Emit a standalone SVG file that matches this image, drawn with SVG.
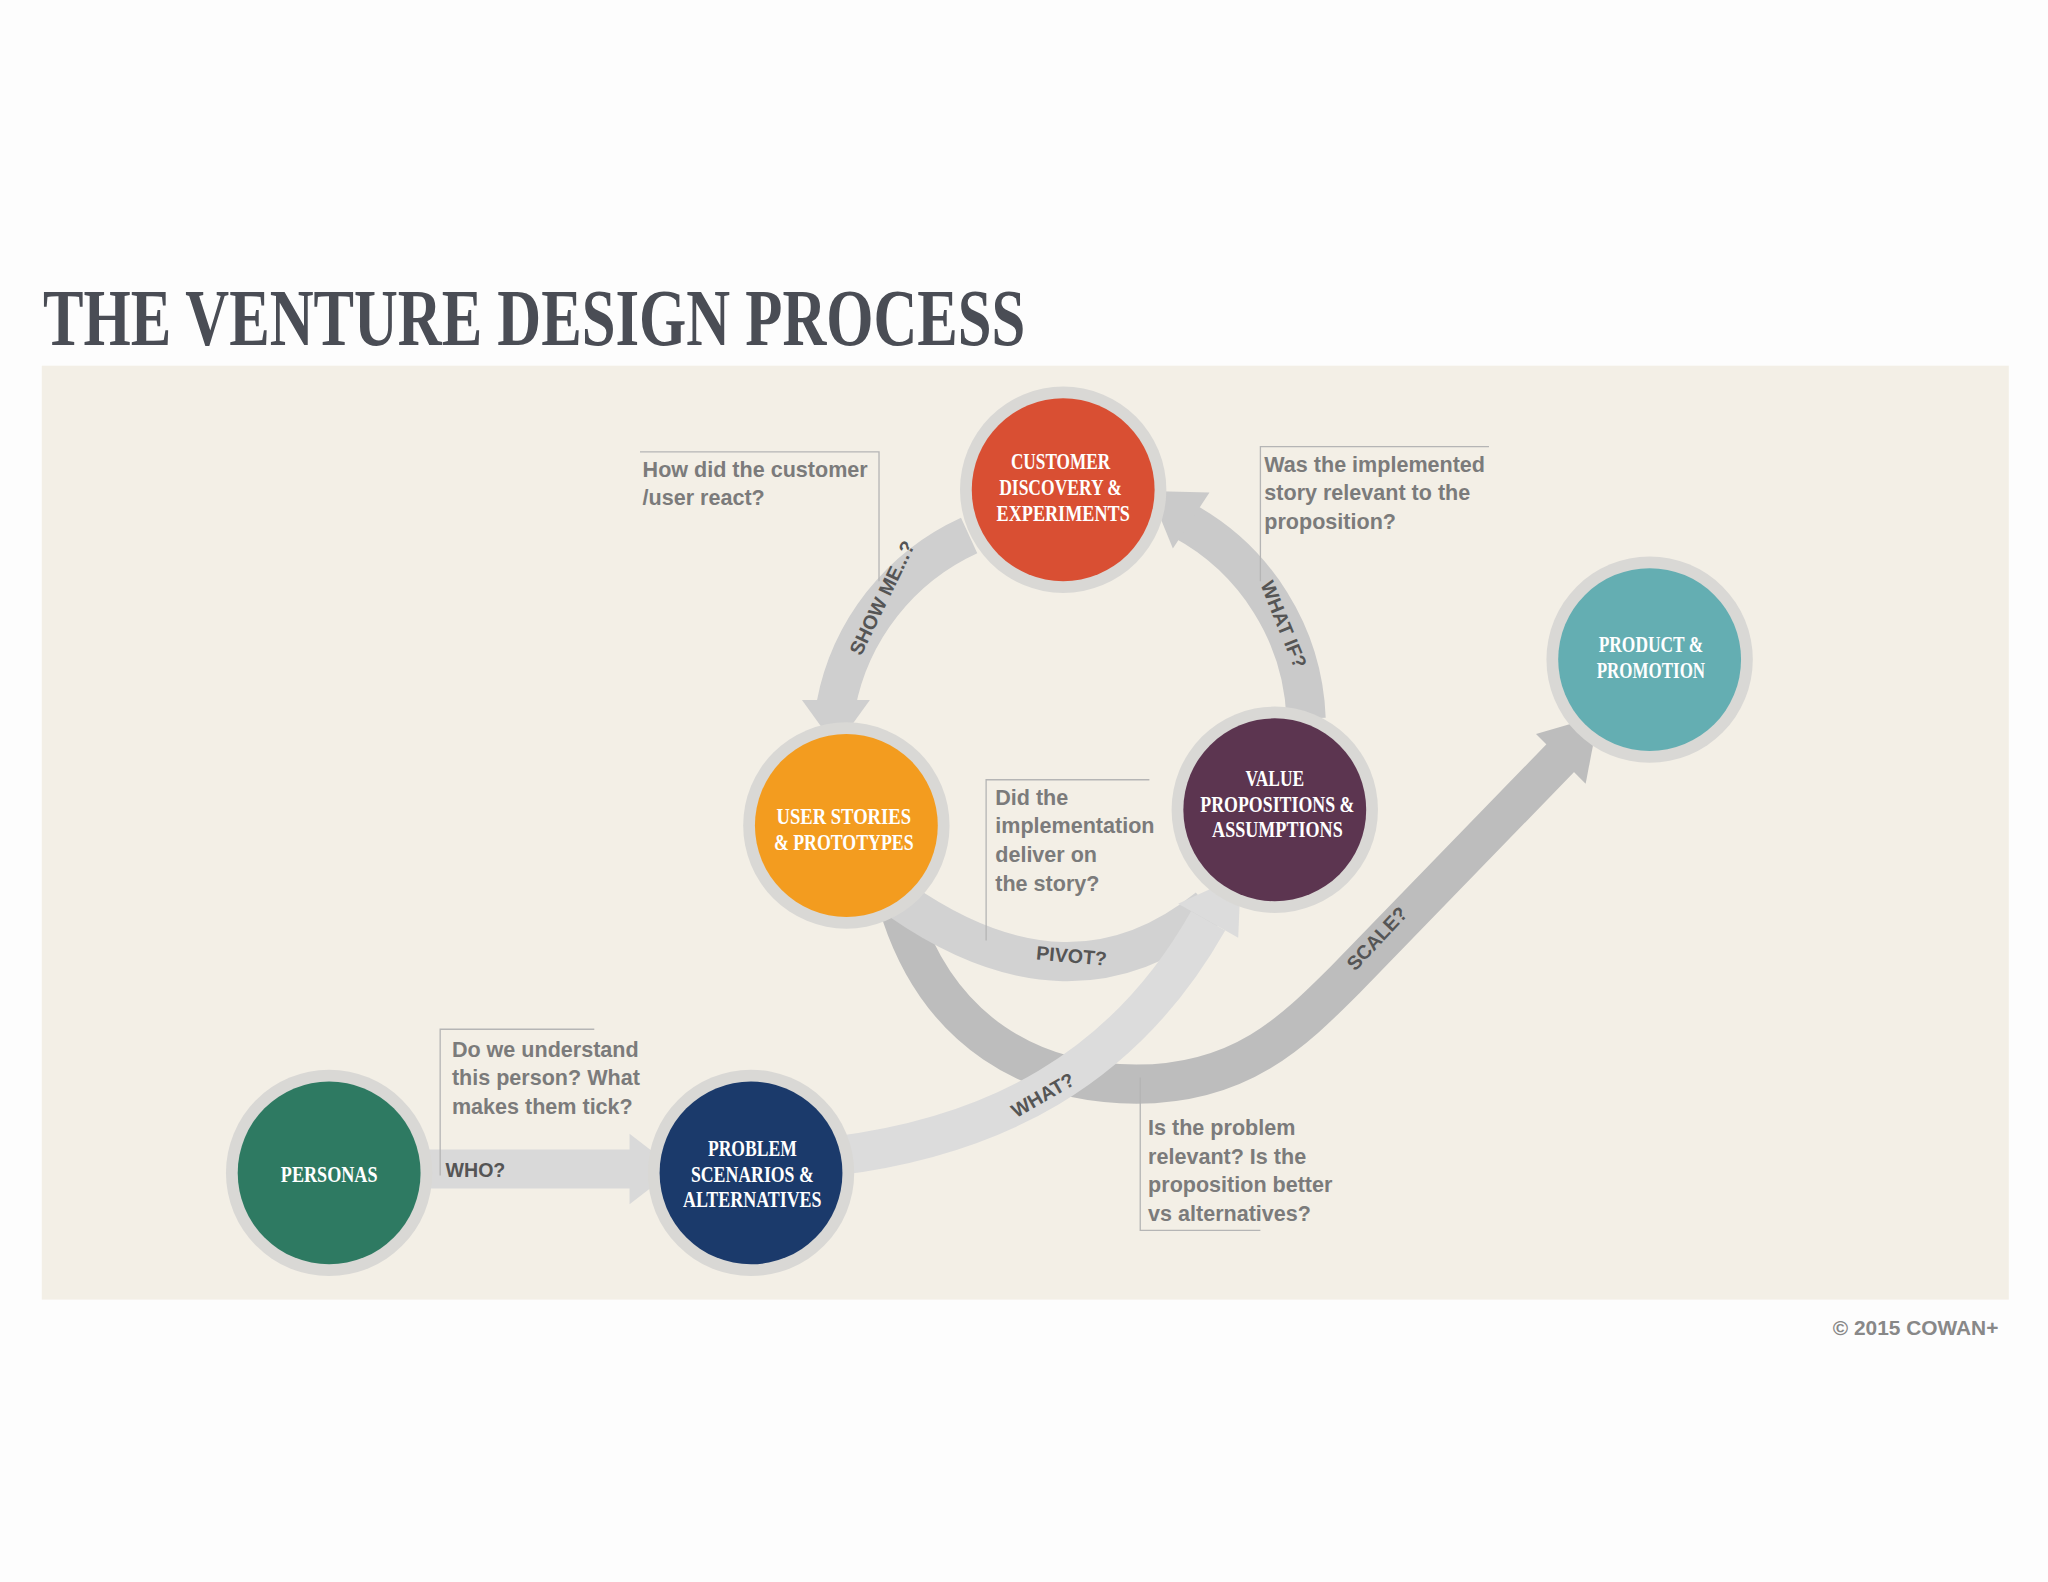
<svg xmlns="http://www.w3.org/2000/svg" width="2048" height="1582" viewBox="0 0 2048 1582">
<style>
.ring{fill:#d9d8d5}
.nt{font-family:"Liberation Serif",serif;font-weight:bold;font-size:17px;fill:#fff;text-anchor:middle}
.co{font-family:"Liberation Sans",sans-serif;font-weight:bold;font-size:16.5px;fill:#7b7b7b}
.cl{stroke:#b5b5b5;stroke-width:1;fill:none}
.al{font-family:"Liberation Sans",sans-serif;font-weight:bold;font-size:15px;fill:#555;text-anchor:middle}
.band{fill:none;stroke-width:30}
</style>
<rect width="2048" height="1582" fill="#fdfdfd"/>
<g transform="scale(1.30612)">
<text x="33" y="264" font-family="Liberation Serif,serif" font-weight="bold" font-size="62" fill="#4a4d55" textLength="752" lengthAdjust="spacingAndGlyphs">THE VENTURE DESIGN PROCESS</text>
<rect x="32" y="280" width="1506" height="715" fill="#f3efe6"/>
<text x="1530" y="1022" font-family="Liberation Sans,sans-serif" font-weight="bold" font-size="16" fill="#888" text-anchor="end">© 2015 COWAN+</text>
<g id="connectors">
<path class="band" stroke="#bdbdbd" d="M690,700 C720,790 790,830 870,830 C950,830 990,790 1030,750 L1197,578"/>
<polygon fill="#bdbdbd" points="1224,548 1214,600 1176,562"/>
<path class="band" stroke="#d2d2d2" d="M690,690 Q820,780 925,695"/>
<path class="band" stroke="#dcdcdc" d="M640,885 C760,870 860,820 925,705"/>
<polygon fill="#dcdcdc" points="950,670 948,718 902,692"/>
<path class="band" stroke="#d9d9d9" d="M325,895 L485,895"/>
<polygon fill="#d9d9d9" points="482,868 517,895 482,922"/>
<path class="band" stroke="#cfcfcf" d="M742,410 A180,180 0 0 0 640,540"/>
<polygon fill="#cfcfcf" points="614,536 666,536 640,572"/>
<path class="band" stroke="#cacaca" d="M1000,550 A180,180 0 0 0 905,398"/>
<polygon fill="#cacaca" points="880,376 926,377 898,420"/>
<text class="al" x="364" y="901">WHO?</text>
<text class="al" transform="translate(801,843) rotate(-30)">WHAT?</text>
<text class="al" transform="translate(820,737) rotate(5)">PIVOT?</text>
<text class="al" transform="translate(1058,722) rotate(-47)">SCALE?</text>
<text class="al" transform="translate(680,460) rotate(-64)">SHOW ME...?</text>
<text class="al" transform="translate(978,480) rotate(68)">WHAT IF?</text>
</g>
<g id="customer"><circle class="ring" cx="814" cy="375" r="79"/><circle cx="814" cy="375" r="70" fill="#d94f33"/>
<text class="nt" x="812" y="359" textLength="76" lengthAdjust="spacingAndGlyphs">CUSTOMER</text><text class="nt" x="812" y="379" textLength="94" lengthAdjust="spacingAndGlyphs">DISCOVERY &amp;</text><text class="nt" x="814" y="399" textLength="102" lengthAdjust="spacingAndGlyphs">EXPERIMENTS</text></g>
<g id="product"><circle class="ring" cx="1263" cy="505" r="79"/><circle cx="1263" cy="505" r="70" fill="#64aeb2"/>
<text class="nt" x="1264" y="499" textLength="80" lengthAdjust="spacingAndGlyphs">PRODUCT &amp;</text><text class="nt" x="1264" y="519" textLength="83" lengthAdjust="spacingAndGlyphs">PROMOTION</text></g>
<g id="userstories"><circle class="ring" cx="648" cy="632" r="79"/><circle cx="648" cy="632" r="70" fill="#f39c1f"/>
<text class="nt" x="646" y="631" textLength="103" lengthAdjust="spacingAndGlyphs">USER STORIES</text><text class="nt" x="646" y="651" textLength="107" lengthAdjust="spacingAndGlyphs">&amp; PROTOTYPES</text></g>
<g id="value"><circle class="ring" cx="976" cy="620" r="79"/><circle cx="976" cy="620" r="70" fill="#5c3550"/>
<text class="nt" x="976" y="602" textLength="45" lengthAdjust="spacingAndGlyphs">VALUE</text><text class="nt" x="978" y="622" textLength="118" lengthAdjust="spacingAndGlyphs">PROPOSITIONS &amp;</text><text class="nt" x="978" y="641" textLength="100" lengthAdjust="spacingAndGlyphs">ASSUMPTIONS</text></g>
<g id="personas"><circle class="ring" cx="252" cy="898" r="79"/><circle cx="252" cy="898" r="70" fill="#2e7a62"/>
<text class="nt" x="252" y="905" textLength="74" lengthAdjust="spacingAndGlyphs">PERSONAS</text></g>
<g id="problem"><circle class="ring" cx="575" cy="898" r="79"/><circle cx="575" cy="898" r="70" fill="#1b3a6b"/>
<text class="nt" x="576" y="885" textLength="68" lengthAdjust="spacingAndGlyphs">PROBLEM</text><text class="nt" x="576" y="905" textLength="94" lengthAdjust="spacingAndGlyphs">SCENARIOS &amp;</text><text class="nt" x="576" y="924" textLength="106" lengthAdjust="spacingAndGlyphs">ALTERNATIVES</text></g>
<g id="callouts">
<path class="cl" d="M490,346 H673 V445"/>
<text class="co" x="492" y="365">How did the customer</text><text class="co" x="492" y="387">/user react?</text>
<path class="cl" d="M965,445 V342 H1140"/>
<text class="co" x="968" y="361">Was the implemented</text><text class="co" x="968" y="383">story relevant to the</text><text class="co" x="968" y="405">proposition?</text>
<path class="cl" d="M755,720 V597 H880"/>
<text class="co" x="762" y="616">Did the</text><text class="co" x="762" y="638">implementation</text><text class="co" x="762" y="660">deliver on</text><text class="co" x="762" y="682">the story?</text>
<path class="cl" d="M337,900 V788 H455"/>
<text class="co" x="346" y="809">Do we understand</text><text class="co" x="346" y="831">this person? What</text><text class="co" x="346" y="853">makes them tick?</text>
<path class="cl" d="M873,825 V942 H965"/>
<text class="co" x="879" y="869">Is the problem</text><text class="co" x="879" y="891">relevant? Is the</text><text class="co" x="879" y="913">proposition better</text><text class="co" x="879" y="935">vs alternatives?</text>
</g>
</g>
</svg>
